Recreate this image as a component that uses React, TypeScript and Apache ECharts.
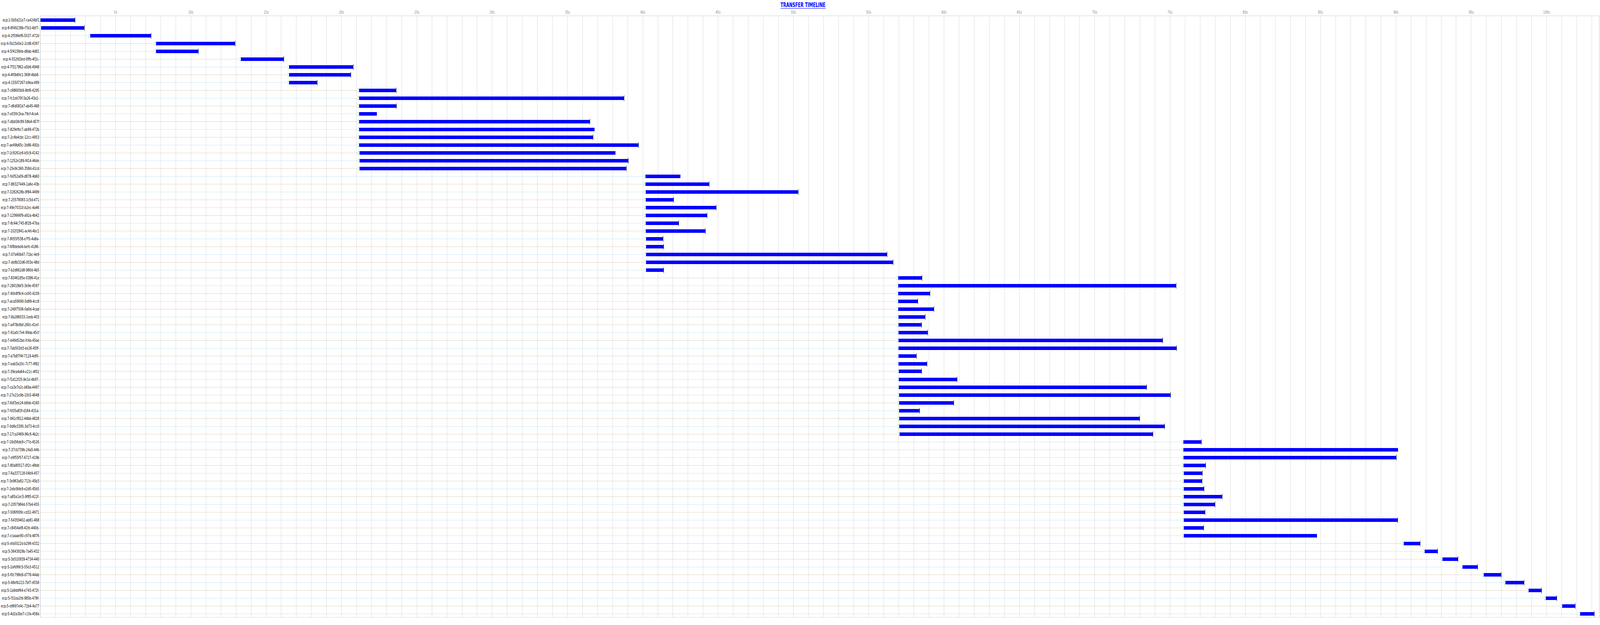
import React, { useEffect, useRef } from "react";
import * as echarts from "echarts";

const labels: string[] = [
  "ecp:1-5b5d21e7-ca424bf1",
  "ecp:8-8f49238b-f7b3-4bf7-",
  "ecp:4-2f599ef6-5037-472d",
  "ecp:4-5b15e0e2-2cd8-4397",
  "ecp:4-5f4158eb-d8ab-4d81",
  "ecp:4-552fd3ed-0ffb-4f2c-",
  "ecp:4-7f317862-a5b6-4948",
  "ecp:4-4f0b6fe1-369f-4bb8-",
  "ecp:4-15507267-b9ea-499",
  "ecp:7-c68693b9-9bf6-4295",
  "ecp:7-fc1eb70f-3a26-43e2-",
  "ecp:7-d6d081b7-ab45-468",
  "ecp:7-e030c3ea-79cf-4ca4-",
  "ecp:7-dbb58c89-58b4-457f",
  "ecp:7-829efbc7-ab99-472b",
  "ecp:7-2c4b4cbc-12cc-4953",
  "ecp:7-ae49b65c-3e86-491b",
  "ecp:7-2c9261e6-b5c9-4142",
  "ecp:7-1252e189-f414-46de",
  "ecp:7-25e9c360-358d-41cd",
  "ecp:7-fe052a09-d878-4b60",
  "ecp:7-86327449-1a6e-43b",
  "ecp:7-3282628b-9f84-4499",
  "ecp:7-25578083-1c5d-471",
  "ecp:7-49e70310-b2ec-4a46",
  "ecp:7-120666f9-a92a-4b42",
  "ecp:7-8c44c745-8f28-47ba",
  "ecp:7-102f2841-ac4d-4bc1",
  "ecp:7-9055f538-e7f5-4a8a-",
  "ecp:7-6f8debd4-befc-4186-",
  "ecp:7-07d40b47-71bc-4e9",
  "ecp:7-de8b32d6-003e-48d",
  "ecp:7-b2d662d8-980d-4b5",
  "ecp:7-8346185e-0386-41e",
  "ecp:7-29019bf3-3e9e-4597",
  "ecp:7-90e8f9c4-ce00-4109",
  "ecp:7-aca59090-5d89-4cc8",
  "ecp:7-240f7506-0a0d-4cad",
  "ecp:7-8a286033-1eeb-403",
  "ecp:7-a478e8af-260c-41ef-",
  "ecp:7-91a0c7e4-99da-45cf",
  "ecp:7-b49d52be-fc4a-45ae",
  "ecp:7-7ab503d3-ee26-45ff-",
  "ecp:7-a7b87f4f-7119-4df0-",
  "ecp:7-eab3a10c-7c77-4f82",
  "ecp:7-39ea4a64-e21c-4f02",
  "ecp:7-f1d12f25-9e1e-4b97-",
  "ecp:7-ca3e7e2c-b69a-4497",
  "ecp:7-27e21e9b-10c0-4648",
  "ecp:7-6df3ee24-b8de-4160",
  "ecp:7-fd35a83f-d164-431a-",
  "ecp:7-941cf812-44bb-4828",
  "ecp:7-0d6e3395-3d73-4cc0",
  "ecp:7-17ca3469-96c6-4b2c",
  "ecp:7-16d56de9-c77e-4526",
  "ecp:7-37cb739b-24a5-44b",
  "ecp:7-e9f55f57-6727-419b",
  "ecp:7-80a80517-0f2c-48dd",
  "ecp:7-6a337118-04b9-457",
  "ecp:7-3e963a82-713c-45b3",
  "ecp:7-2ebc8de9-e2d0-45b5",
  "ecp:7-a85a1ec5-9f85-422f-",
  "ecp:7-2057984d-57b4-455",
  "ecp:7-506f009c-cd32-4971",
  "ecp:7-54359402-ab81-468",
  "ecp:7-c8454af8-41fe-440d-",
  "ecp:7-ccaaae90-c97d-4876",
  "ecp:5-efa5022d-b299-4332",
  "ecp:5-3643929b-7a45-432",
  "ecp:5-3e510939-4734-440",
  "ecp:5-1afd99c5-55e3-4512",
  "ecp:5-f0c798e8-d778-44ab",
  "ecp:5-48efb223-7bf7-4558",
  "ecp:5-1a9ddf64-e743-472f-",
  "ecp:5-f31ea2fd-985b-478f-",
  "ecp:5-e9697e4c-72b4-4a77",
  "ecp:5-4d2a3be7-c1fa-458a",
];

// transfer start times (seconds)
const starts: number[] = [
  0.02, 0.06, 3.32, 7.69, 7.69, 13.32, 16.52, 16.52, 16.52,
  21.17, 21.17, 21.17, 21.17, 21.17, 21.17, 21.17, 21.17, 21.2, 21.2, 21.2,
  40.18, 40.18, 40.2, 40.2, 40.2, 40.2, 40.2, 40.2, 40.22, 40.22, 40.22, 40.22, 40.22,
  56.96, 56.96, 56.96, 56.96, 56.96, 56.98, 56.98, 56.98, 56.98, 56.98, 56.98, 56.98,
  57.0, 57.0, 57.0, 57.02, 57.02, 57.02, 57.03, 57.03, 57.05,
  75.89, 75.89, 75.9, 75.9, 75.92, 75.92, 75.92, 75.92, 75.92, 75.92, 75.92, 75.92, 75.92,
  90.52, 91.91, 93.09, 94.42, 95.83, 97.27, 98.81, 99.95, 101.04, 102.23,
];

// transfer end times (seconds)
const ends: number[] = [
  2.31, 2.93, 7.36, 12.94, 10.5, 16.17, 20.78, 20.62, 18.39,
  23.63, 38.76, 23.65, 22.35, 36.49, 36.8, 36.7, 39.72, 38.19, 39.04, 38.91,
  42.5, 44.41, 50.32, 42.05, 44.88, 44.27, 42.39, 44.16, 41.35, 41.39, 56.22, 56.62, 41.39,
  58.54, 75.41, 59.07, 58.26, 59.33, 58.75, 58.51, 58.92, 74.52, 75.44, 58.17, 58.87,
  58.51, 60.87, 73.45, 75.04, 60.65, 58.38, 72.99, 74.65, 73.87,
  77.09, 90.14, 90.03, 77.37, 77.15, 77.13, 77.26, 78.47, 77.99, 77.33, 90.12, 77.24, 84.76,
  91.61, 92.77, 94.12, 95.43, 96.99, 98.51, 99.67, 100.68, 101.91, 103.17,
];

// whether an end marker is drawn (1 = yes)
const finished: number[] = [
  1, 1, 1, 1, 1, 1, 1, 1, 1,
  1, 1, 1, 0, 1, 0, 1, 1, 0, 1, 1,
  0, 1, 1, 1, 1, 1, 1, 1, 1, 1, 1, 1, 1,
  1, 1, 1, 1, 1, 1, 1, 1, 1, 1, 1, 1,
  1, 1, 1, 1, 1, 1, 1, 1, 1,
  1, 0, 1, 1, 1, 1, 1, 1, 1, 1, 1, 1, 0,
  1, 1, 1, 1, 1, 1, 1, 1, 1, 1,
];

const TITLE = "TRANSFER TIMELINE";
const FONT = "DejaVu Sans";
const DESIGN_W = 6365;
const DESIGN_H = 1600;

export default function App() {
  const ref = useRef<HTMLDivElement>(null);
  const vw = typeof window !== "undefined" ? window.innerWidth || DESIGN_W : DESIGN_W;
  const vh = typeof window !== "undefined" ? window.innerHeight || DESIGN_H : DESIGN_H;
  const sx = Math.min(1, vw / DESIGN_W);
  const sy = Math.min(1, vh / DESIGN_H);

  useEffect(() => {
    const el = ref.current;
    if (!el) return;
    const chart = echarts.init(el, undefined, { renderer: "svg" });
    const data = labels.map((_, i) => [i, starts[i], ends[i], finished[i]]);

    const renderItem = (params: any, api: any) => {
      const row = api.value(0);
      const s = api.value(1);
      const e = api.value(2);
      const done = api.value(3);
      const p0 = api.coord([0, row]);
      const ps = api.coord([s, row]);
      const pe = api.coord([e, row]);
      const y = Math.round(ps[1]) + 0.5;
      const odd = row % 2 === 0;
      const children: any[] = [];
      if (ps[0] - 7 > p0[0]) {
        children.push({
          type: "line",
          shape: { x1: p0[0], y1: y, x2: ps[0] - 7, y2: y },
          style: {
            stroke: odd ? "#a3d8e2" : "#ab9f5c",
            lineWidth: 1,
            lineDash: odd ? [5, 2] : [1, 1],
          },
        });
      }
      children.push({
        type: "ellipse",
        shape: { cx: ps[0] - 4, cy: y - 3.6, rx: 1.2, ry: 1.4 },
        style: { fill: "none", stroke: "#86e386", lineWidth: 1 },
      });
      children.push({
        type: "ellipse",
        shape: { cx: ps[0] - 4, cy: y + 3.6, rx: 1.2, ry: 1.4 },
        style: { fill: "none", stroke: "#86e386", lineWidth: 1 },
      });
      children.push({
        type: "rect",
        shape: { x: ps[0], y: y - 4.5, width: Math.max(1, pe[0] - ps[0]), height: 9 },
        style: { fill: "#0000ff" },
      });
      if (done) {
        children.push({
          type: "line",
          shape: { x1: pe[0], y1: y - 7.5, x2: pe[0], y2: y + 7.5 },
          style: { stroke: "#000000", lineWidth: 1 },
        });
      }
      return { type: "group", children };
    };

    const titleFont = `bold 15.5px "${FONT}"`;
    const titleW = 179;
    const titleCx = 3194.5;

    chart.setOption({
      animation: false,
      backgroundColor: "#ffffff",
      textStyle: { fontFamily: FONT },
      grid: {
        left: 153.5,
        top: 40.5,
        right: 0,
        height: 1540,
        show: true,
        borderColor: "#cfcfcf",
        borderWidth: 1,
        containLabel: false,
      },
      graphic: [
        {
          type: "text",
          x: titleCx,
          y: 13,
          style: {
            text: TITLE,
            fill: "#0000ff",
            font: titleFont,
            align: "center",
            verticalAlign: "middle",
          },
        },
        {
          type: "line",
          shape: {
            x1: titleCx - titleW / 2,
            y1: 21.5,
            x2: titleCx + titleW / 2,
            y2: 21.5,
          },
          style: { stroke: "#0000ff", lineWidth: 1.2 },
        },
      ],
      xAxis: {
        type: "value",
        position: "top",
        min: 0,
        max: 103.5,
        interval: 1,
        axisLine: { show: true, lineStyle: { color: "#cfcfcf" } },
        axisTick: { show: false },
        axisLabel: {
          margin: 4,
          color: "#888888",
          fontSize: 11,
          fontFamily: FONT,
          formatter: (v: number) => (v > 0 && Math.abs(v % 5) < 1e-9 ? `${v}s` : ""),
        },
        splitLine: { show: true, lineStyle: { color: "#d4d4d4", width: 1 } },
      },
      yAxis: {
        type: "category",
        inverse: true,
        data: labels,
        axisLine: { show: true, lineStyle: { color: "#cfcfcf" } },
        axisTick: { show: false },
        splitLine: { show: false },
        axisLabel: {
          margin: 4,
          color: "#000000",
          fontSize: 11,
          fontFamily: FONT,
          interval: 0,
        },
      },
      series: [
        {
          type: "custom",
          renderItem,
          encode: { x: [1, 2], y: 0 },
          data,
          clip: false,
        },
      ],
    });

    return () => chart.dispose();
  }, []);

  return (
    <div
      style={{
        position: "absolute",
        left: 0,
        top: 0,
        width: DESIGN_W * sx,
        height: DESIGN_H * sy,
        overflow: "hidden",
      }}
    >
      <div
        ref={ref}
        style={{
          width: DESIGN_W,
          height: DESIGN_H,
          transform: `scale(${sx}, ${sy})`,
          transformOrigin: "0 0",
        }}
      />
    </div>
  );
}
